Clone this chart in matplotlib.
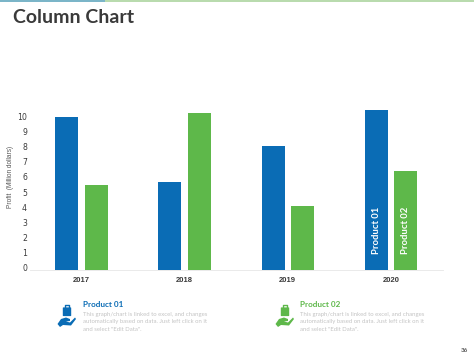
import numpy as np
import matplotlib
matplotlib.use('Agg')
import matplotlib.pyplot as plt
from matplotlib.patches import Rectangle, FancyBboxPatch, Polygon
from matplotlib.transforms import ScaledTranslation

W, H = 474, 355

years = ['2017', '2018', '2019', '2020']
product_01 = [10.1, 5.85, 8.2, 10.55]
product_02 = [5.6, 10.35, 4.2, 6.55]
y_ticks = [0, 1, 2, 3, 4, 5, 6, 7, 8, 9, 10]
blurb = ['This graph/chart is linked to excel, and changes',
         'automatically based on data. Just left click on it',
         'and select "Edit Data".']

BLUE = '#0a6cb5'
GREEN = '#5eb84a'
DARK = '#3a3a3a'
GREY = '#c4c4c4'

plt.rcParams['font.family'] = ['Lato', 'DejaVu Sans']

fig = plt.figure(figsize=(W / 100, H / 100), dpi=100, facecolor='white')

# chart area, in pixels of the reference
left, right, bottom, top = 29.7, 442.6, 270, 103.6
ax = fig.add_axes([left / W, 1 - bottom / H, (right - left) / W, (bottom - top) / H])

x = np.arange(len(years))
width = 0.223
off = 0.1424
bars1 = ax.bar(x - off, product_01, width, color=BLUE)
bars2 = ax.bar(x + off, product_02, width, color=GREEN)
ax.set_xlim(-0.5, 3.5)
ax.set_ylim(0, 11)

for s in ['top', 'right', 'left']:
    ax.spines[s].set_visible(False)
ax.spines['bottom'].set_color('#e6e6e6')
ax.spines['bottom'].set_linewidth(0.6)

ax.set_xticks(x)
ax.set_xticklabels(years, fontsize=5.5, fontweight='bold', color=DARK, family='Liberation Sans')
ax.tick_params(axis='x', length=0, pad=5)
ax.set_yticks(y_ticks)
ax.set_yticklabels([str(t) for t in y_ticks], fontsize=5.6, color=DARK, family='DejaVu Sans')
ax.tick_params(axis='y', length=0, pad=2)
# the printed numbers sit a little above their gridline position
shift = ScaledTranslation(0, 2.3 / 100, fig.dpi_scale_trans)
for lab in ax.get_yticklabels():
    lab.set_transform(lab.get_transform() + shift)
ax.set_ylabel('Profit  (Million dollars)', fontsize=4.7, color='#555555', family='Liberation Sans')
ax.yaxis.set_label_coords((14 - left) / (right - left), (bottom - 177) / (bottom - top))

ax.text(x[3] - off, 1.05, 'Product 01', rotation=90, color='white', fontsize=6.8,
        fontweight='bold', ha='center', va='bottom')
ax.text(x[3] + off, 1.05, 'Product 02', rotation=90, color='white', fontsize=6.8,
        fontweight='bold', ha='center', va='bottom')

# everything around the chart goes on an overlay in pixel coordinates
ov = fig.add_axes([0, 0, 1, 1], facecolor='none')
ov.set_xlim(0, W)
ov.set_ylim(H, 0)
ov.axis('off')

ov.add_patch(Rectangle((0, 0), 105, 2, color='#7bb5c8', lw=0))
ov.add_patch(Rectangle((105, 0), W - 105, 2, color='#b9dbae', lw=0))
ov.text(13, 17.5, 'Column Chart', fontsize=14, fontweight='bold', color=DARK, va='center')


def icon(cx, color):
    # shopping bag held above an open hand
    ov.add_patch(FancyBboxPatch((cx - 3.6, 308), 7.2, 7.5, boxstyle='round,pad=0.6', color=color, lw=0))
    ov.plot([cx - 1.8, cx - 1.8, cx + 1.8, cx + 1.8], [308, 305.2, 305.2, 308], color=color, lw=1)
    ov.add_patch(Polygon([(cx - 9.5, 324), (cx - 6, 319), (cx - 1, 317.5), (cx + 3, 319), (cx + 3, 321),
                          (cx - 1, 321.5), (cx + 3, 322.5), (cx + 8, 317.5), (cx + 9, 319),
                          (cx + 4, 325.5), (cx - 4, 325), (cx - 7, 327)], color=color, lw=0))


def note(x0, title, color):
    ov.text(x0, 304.5, title, fontsize=5.9, fontweight='bold', color=color, va='center')
    for i, line in enumerate(blurb):
        ov.text(x0, 314.7 + i * 7.2, line, fontsize=4.35, color=GREY, va='center')


icon(67, BLUE)
note(83, 'Product 01', BLUE)
icon(285, GREEN)
note(300, 'Product 02', GREEN)

ov.text(464, 350, '36', fontsize=4.5, fontweight='bold', color='#555555', ha='center', va='center')

fig.savefig('out.png', dpi=100)
